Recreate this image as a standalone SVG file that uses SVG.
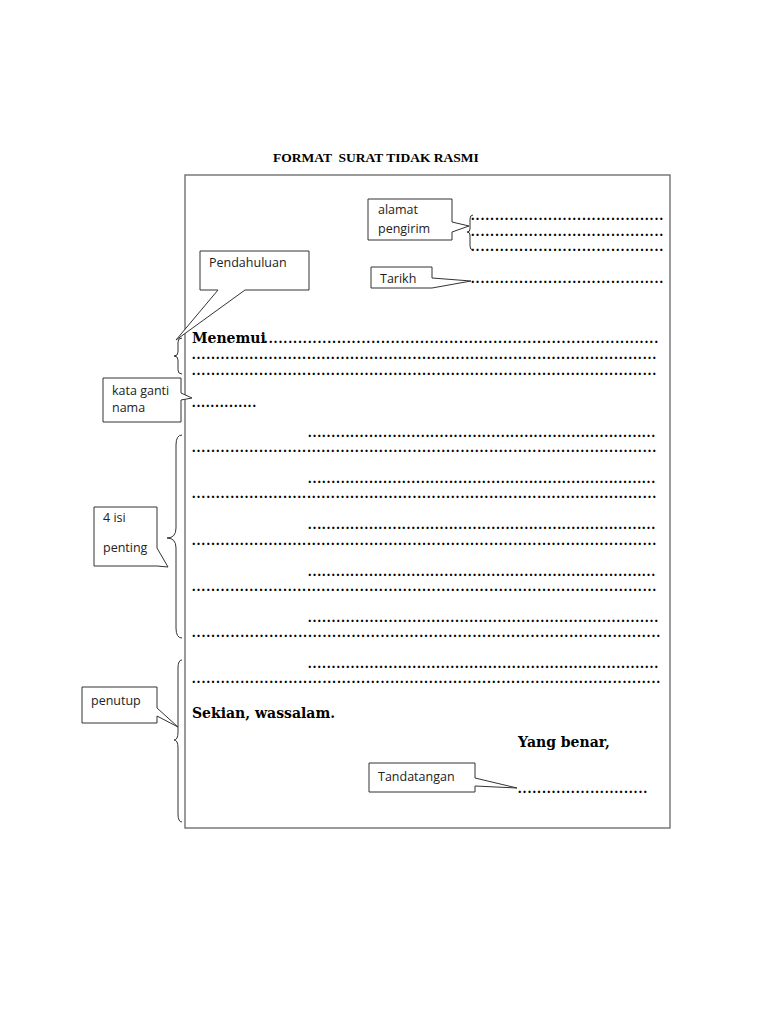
<svg xmlns="http://www.w3.org/2000/svg" width="768" height="1024" viewBox="0 0 768 1024">
<style>
.d{font-family:"Liberation Serif",serif;font-weight:bold;font-size:14px;fill:#000}
.b{font-family:"DejaVu Serif","Liberation Serif",serif;font-weight:bold;font-size:14px;fill:#000}
.c{fill:#fff;stroke:#333;stroke-width:1}
.l{font-family:"Open Sans","Liberation Sans",sans-serif;font-size:12.5px;fill:#222}
.br{fill:none;stroke:#333;stroke-width:1}
</style>
<rect width="768" height="1024" fill="#fff"/>
<text x="273" y="162" font-family="Liberation Serif,serif" font-weight="bold" font-size="13.5" xml:space="preserve">FORMAT  SURAT TIDAK RASMI</text>
<rect id="letter" x="185" y="175" width="485" height="653" fill="none" stroke="#666" stroke-width="1.3"/>
<g id="dots">
<text class="d" x="471" y="220" textLength="192" lengthAdjust="spacing">........................................</text>
<text class="d" x="471" y="236" textLength="192" lengthAdjust="spacing">........................................</text>
<text class="d" x="471" y="251" textLength="192" lengthAdjust="spacing">........................................</text>
<text class="d" x="471" y="283" textLength="192" lengthAdjust="spacing">........................................</text>
<text class="b" x="192" y="343">Menemui</text>
<text class="d" x="264" y="343" textLength="394" lengthAdjust="spacing">.................................................................................</text>
<text class="d" x="192" y="359" textLength="464" lengthAdjust="spacing">.................................................................................................</text>
<text class="d" x="192" y="375" textLength="464" lengthAdjust="spacing">.................................................................................................</text>
<text class="d" x="192" y="407" textLength="64" lengthAdjust="spacing">..............</text>
<text class="d" x="308" y="437" textLength="347" lengthAdjust="spacing">..........................................................................</text>
<text class="d" x="192" y="452" textLength="464" lengthAdjust="spacing">.................................................................................................</text>
<text class="d" x="308" y="483" textLength="347" lengthAdjust="spacing">..........................................................................</text>
<text class="d" x="192" y="498" textLength="464" lengthAdjust="spacing">.................................................................................................</text>
<text class="d" x="308" y="529" textLength="347" lengthAdjust="spacing">..........................................................................</text>
<text class="d" x="192" y="545" textLength="464" lengthAdjust="spacing">.................................................................................................</text>
<text class="d" x="308" y="576" textLength="347" lengthAdjust="spacing">..........................................................................</text>
<text class="d" x="192" y="591" textLength="464" lengthAdjust="spacing">.................................................................................................</text>
<text class="d" x="308" y="622" textLength="350" lengthAdjust="spacing">..........................................................................</text>
<text class="d" x="192" y="637" textLength="468" lengthAdjust="spacing">.................................................................................................</text>
<text class="d" x="308" y="668" textLength="350" lengthAdjust="spacing">..........................................................................</text>
<text class="d" x="192" y="683" textLength="468" lengthAdjust="spacing">.................................................................................................</text>
<text class="b" x="192" y="718">Sekian, wassalam.</text>
<text class="b" x="518" y="747">Yang benar,</text>
<text class="d" x="518" y="793" textLength="129" lengthAdjust="spacing">...........................</text>
</g>
<g id="connectors">
<path class="br" d="M473,215 Q470,215 470,219 L470,229 Q470,232 467,232 Q470,232 470,235 L470,246 Q470,250 473,250"/>
<path class="br" d="M182,338 Q178,338 178,342 L178,352 Q178,356 174,356 Q178,356 178,360 L178,370 Q178,374 182,374"/>
<path class="br" d="M182,435 Q176,435 176,445 L176,528 Q176,538 167,538 Q176,538 176,548 L176,628 Q176,638 182,638"/>
<path class="br" d="M182,660 Q178,660 178,668 L178,732 Q178,740 174,740 Q178,740 178,748 L178,814 Q178,822 182,822"/>
</g>
<g id="alamat"><path class="c" d="M368,199 H452 V222 L469,226 L452,232 V240 H368 Z"/><text class="l" x="378" y="214">alamat</text><text class="l" x="378" y="233">pengirim</text></g>
<g id="tarikh"><path class="c" d="M371,267 H432 V278 L471,281 L432,288 H371 Z"/><text class="l" x="380" y="283">Tarikh</text></g>
<g id="pendahuluan"><path class="c" d="M200,251 H309 V290 H245 L176,340 L218,290 H200 Z"/><text class="l" x="209" y="267">Pendahuluan</text></g>
<g id="kata"><path class="c" d="M103,378 H181 V393 L192,398 L181,400 V422 H103 Z"/><text class="l" x="112" y="395">kata ganti</text><text class="l" x="112" y="412">nama</text></g>
<g id="isi"><path class="c" d="M94,507 H157 V548 L168,567 L157,566 H94 Z"/><text class="l" x="103" y="522">4 isi</text><text class="l" x="103" y="552">penting</text></g>
<g id="penutup"><path class="c" d="M82,687 H157 V708 L178,727 L157,716 V723 H82 Z"/><text class="l" x="91" y="705">penutup</text></g>
<g id="tandatangan"><path class="c" d="M369,763 H475 V778 L517,788 L475,786 V792 H369 Z"/><text class="l" x="378" y="781">Tandatangan</text></g>
</svg>
